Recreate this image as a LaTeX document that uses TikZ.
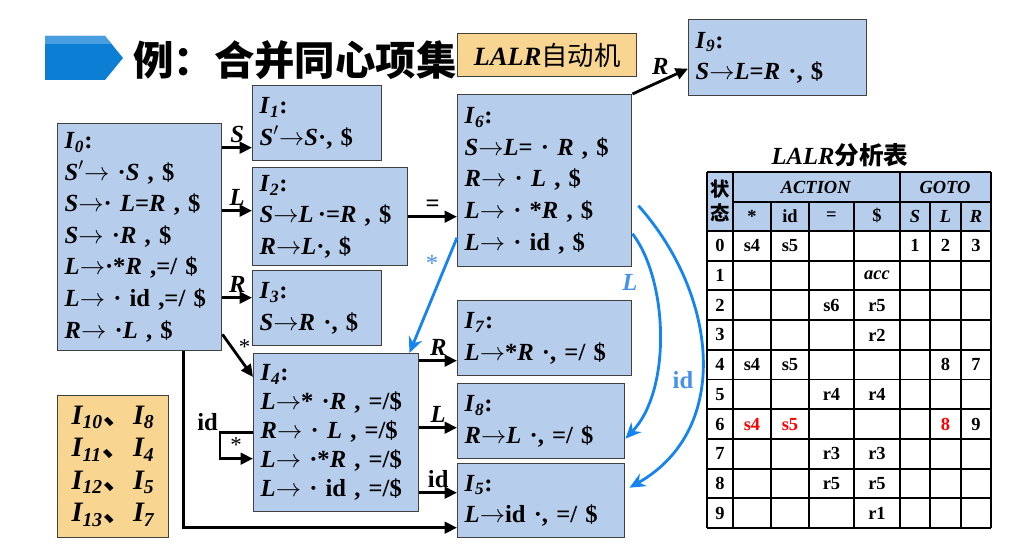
\documentclass[tikz,border=0pt]{standalone}
\usepackage{fontspec}
\setmainfont{Liberation Serif}
\newfontfamily\cjk{Noto Sans CJK SC}
\usetikzlibrary{positioning, arrows.meta}

\definecolor{boxblue}{RGB}{182,205,235}
\definecolor{noteyellow}{RGB}{248,214,146}
\definecolor{curveblue}{RGB}{22,132,240}
\definecolor{labelblue}{RGB}{70,145,235}
\definecolor{titleblue}{RGB}{12,126,212}

\newcommand{\nt}[1]{\textit{#1}}
\newcommand{\To}{\ensuremath{\rightarrow}}
\newcommand{\dt}{·}
\newcommand{\Isub}[1]{\textit{I}\textsubscript{\textit{#1}}}
\newcommand{\hl}[1]{\textcolor{red}{#1}}
\newcommand{\Sp}{\textit{S}\ensuremath{'}}

\begin{document}
\begin{tikzpicture}[
    x=0.02cm, y=-0.02cm,
    itemset/.style={
        draw=black!75,
        line width=0.8pt,
        fill=boxblue,
        anchor=north west,
        align=left,
        inner xsep=4pt,
        inner ysep=3pt,
        font=\fontsize{14}{18}\selectfont\bfseries
    },
    note/.style={
        draw=black!75,
        line width=0.8pt,
        fill=noteyellow,
        anchor=north west
    },
    arrow/.style={
        -{Triangle[length=7pt,width=6.5pt]},
        line width=1.6pt
    },
    goto/.style={
        -{Stealth[length=9pt,width=8pt]},
        line width=1.6pt,
        curveblue
    },
    lab/.style={font=\fontsize{14}{14}\selectfont\bfseries\itshape, inner sep=1pt},
    labup/.style={font=\fontsize{14}{14}\selectfont\bfseries, inner sep=1pt},
    cell/.style={font=\fontsize{10.5}{12}\selectfont\bfseries, inner sep=0pt},
    tbl/.style={line width=1.1pt}
]
\useasboundingbox (0,0) rectangle (1029,554);

% ===== title =====
\fill[titleblue] (45,36) -- (105,36) -- (123,58) -- (105,80) -- (45,80) -- cycle;
\fill[titleblue!75] (45,36) -- (105,36) -- (111.5,44) -- (45,44) -- cycle;
\node[anchor=west, inner sep=0pt, font=\cjk\bfseries\fontsize{23}{23}\selectfont] (title) at (133,60) {例：合并同心项集};
\node[note, minimum width=3.58cm, minimum height=0.86cm, font=\fontsize{15}{15}\selectfont] (lalr) at (457,33) {\textbf{\textit{LALR}}{\cjk 自动机}};

% ===== item sets =====
\node[itemset, text width=3.00cm, minimum height=4.54cm] (I0) at (57,123) {\Isub{0}:\\
    \Sp\To\ \dt\nt{S} , \$\\
    \nt{S}\To\dt\ \nt{L}=\nt{R} , \$\\
    \nt{S}\To\ \dt\nt{R} , \$\\
    \nt{L}\To\dt*\nt{R} ,=/ \$\\
    \nt{L}\To\ \dt\ id ,=/ \$\\
    \nt{R}\To\ \dt\nt{L} , \$};
\node[itemset, text width=2.30cm, minimum height=1.50cm] (I1) at (252,85) {\Isub{1}:\\
    \Sp\To\nt{S}\dt , \$};
\node[itemset, text width=2.82cm, minimum height=1.96cm] (I2) at (252,167) {\Isub{2}:\\
    \nt{S}\To\nt{L}\,\dt=\nt{R} , \$\\
    \nt{R}\To\nt{L}\dt , \$};
\node[itemset, text width=2.30cm, minimum height=1.50cm] (I3) at (252,270) {\Isub{3}:\\
    \nt{S}\To\nt{R} \dt, \$};
\node[itemset, text width=3.02cm, minimum height=3.16cm, font=\fontsize{14}{16.5}\selectfont\bfseries] (I4) at (253,353) {\Isub{4}:\\
    \nt{L}\To* \dt\nt{R} , =/\$\\
    \nt{R}\To\ \dt\ \nt{L} , =/\$\\
    \nt{L}\To\ \dt*\nt{R} , =/\$\\
    \nt{L}\To\ \dt\ id , =/\$};
\node[itemset, text width=3.20cm, minimum height=3.44cm] (I6) at (457,94) {\Isub{6}:\\
    \nt{S}\To\nt{L}= \dt\ \nt{R} , \$\\
    \nt{R}\To\ \dt\ \nt{L} , \$\\
    \nt{L}\To\ \dt\ *\nt{R} , \$\\
    \nt{L}\To\ \dt\ id , \$};
\node[itemset, text width=3.20cm, minimum height=1.50cm] (I7) at (457,300) {\Isub{7}:\\
    \nt{L}\To*\nt{R} \dt, =/ \$};
\node[itemset, text width=3.06cm, minimum height=1.50cm] (I8) at (457,383) {\Isub{8}:\\
    \nt{R}\To\nt{L} \dt, =/ \$};
\node[itemset, text width=3.06cm, minimum height=1.48cm] (I5) at (457,463) {\Isub{5}:\\
    \nt{L}\To id \dt, =/ \$};
\node[itemset, text width=3.28cm, minimum height=1.52cm] (I9) at (688,19) {\Isub{9}:\\
    \nt{S}\To\nt{L}=\nt{R} \dt, \$};

% ===== merged states =====
\node[note, minimum width=2.22cm, minimum height=2.78cm, font=\fontsize{16}{18.5}\selectfont\bfseries\itshape] (merge) at (57,395) {%
    \begin{tabular}{@{}l@{\hspace{1pt}}l@{}}
    \Isub{10}{\upshape\cjk 、} & \Isub{8}\\
    \Isub{11}{\upshape\cjk 、} & \Isub{4}\\
    \Isub{12}{\upshape\cjk 、} & \Isub{5}\\
    \Isub{13}{\upshape\cjk 、} & \Isub{7}
    \end{tabular}};

% ===== black transitions =====
\coordinate (aS) at ([yshift=-0.49cm]I1.west);
\coordinate (aL) at ([yshift=0.12cm]I2.west);
\coordinate (aR) at ([yshift=0.21cm]I3.west);
\draw[arrow] (I0.east |- aS) -- node[lab, above=1pt] (lS) {S} (aS);
\draw[arrow] (I0.east |- aL) -- node[lab, above=1pt] (lL) {L} (aL);
\draw[arrow] (I0.east |- aR) -- node[lab, above=1pt] (lR) {R} (aR);
\draw[arrow] ([yshift=0.34cm]I0.south east) -- node[pos=0.3, right, font=\fontsize{13}{13}\selectfont] (lst) {*} ([yshift=-0.48cm]I4.north west);

\coordinate (dn) at ([xshift=0.88cm]I0.south);
\coordinate (a5b) at ([yshift=-0.54cm]I5.west);
\draw[arrow] (dn) |- (a5b);

\draw[arrow] (I2.east) -- node[labup, above=1pt] (leq) {=} (I2.east -| I6.west);
\draw[arrow] (I6.north east) -- node[lab, above=2pt] (lR9) {R} ([yshift=-0.22cm]I9.west);

\coordinate (a7) at ([yshift=-0.45cm]I7.west);
\coordinate (a8) at ([yshift=-0.13cm]I8.west);
\coordinate (a5) at ([yshift=0.16cm]I5.west);
\draw[arrow] (I4.east |- a7) -- node[lab, above=1pt] (lR7) {R} (a7);
\draw[arrow] (I4.east |- a8) -- node[lab, above=1pt] (lL8) {L} (a8);
\draw[arrow] (I4.east |- a5) -- node[labup, above=1pt] (lid5) {id} (a5);

% self loop on I4
\coordinate (loopin) at ([yshift=-0.52cm]I4.west);
\draw[arrow] (I4.west) -- ++(-33,0) coordinate (loopc) |- (loopin);
\node[labup, above left] (lidl) at (loopc) {id};
\node[font=\fontsize{13}{13}\selectfont, inner sep=0pt] (lstl) at (236,445) {*};

% ===== blue transitions =====
\coordinate (b4) at ([xshift=-0.2cm]I4.north east);
\draw[goto] ([yshift=-1.14cm]I6.west) -- (b4);
\node[font=\fontsize{14}{14}\selectfont, labelblue] (lstb) at (432,263) {*};
\draw[goto] ([yshift=-1.06cm]I6.east) .. controls (668,280) and (672,390) .. ([yshift=-0.35cm]I8.east);
\node[lab, labelblue] (lLb) at (630,282) {L};
\draw[goto] ([xshift=0.12cm,yshift=-0.5cm]I6.east) .. controls (718,295) and (732,430) .. ([xshift=0.08cm,yshift=0.26cm]I5.east);
\node[labup, labelblue] (lidb) at (683,380) {id};

% ===== LALR table =====
\node[font=\fontsize{14}{14}\selectfont\bfseries] (ttl) at (840,155) {\textit{LALR}{\cjk\bfseries 分析表}};
\fill[boxblue] (707,172) rectangle (991,231);
\foreach \row in {0,...,10} {
    \draw[tbl] (707,{231+29.7*\row}) -- (991,{231+29.7*\row});
}
\draw[tbl] (707,172) -- (991,172);
\draw[tbl] (733,202) -- (991,202);
\foreach \x in {707,733,900,991} {
    \draw[tbl] (\x,172) -- (\x,528);
}
\foreach \x in {771,809,854,930,961} {
    \draw[tbl] (\x,202) -- (\x,528);
}
\node[cell, align=center, font=\cjk\bfseries\fontsize{11}{14}\selectfont] (hst) at (720,201) {状\\态};
\node[cell] (hact) at (816,187) {\textit{ACTION}};
\node[cell] (hgoto) at (945,187) {\textit{GOTO}};
\foreach \txt/\x [count=\k] in {*/752, id/790, =/831.5, \$/877, \textit{S}/915, \textit{L}/945.5, \textit{R}/976} {
    \node[cell] (h\k) at (\x,216) {\txt};
}
\foreach \sn/\ca/\cb/\cc/\cd/\gs/\gl/\gr [count=\row from 0] in {
    0/s4/s5///1/2/3,
    1////\textit{acc}///,
    2///s6/r5///,
    3////r2///,
    4/s4/s5////8/7,
    5///r4/r4///,
    6/\hl{s4}/\hl{s5}////\hl{8}/9,
    7///r3/r3///,
    8///r5/r5///,
    9////r1///} {
    \foreach \txt/\x [count=\k] in {\sn/720,\ca/752,\cb/790,\cc/831.5,\cd/877,\gs/915,\gl/945.5,\gr/976} {
        \node[cell] (c\row-\k) at (\x,{231+29.7*\row+14.85}) {\txt};
    }
}

\end{tikzpicture}
\end{document}
